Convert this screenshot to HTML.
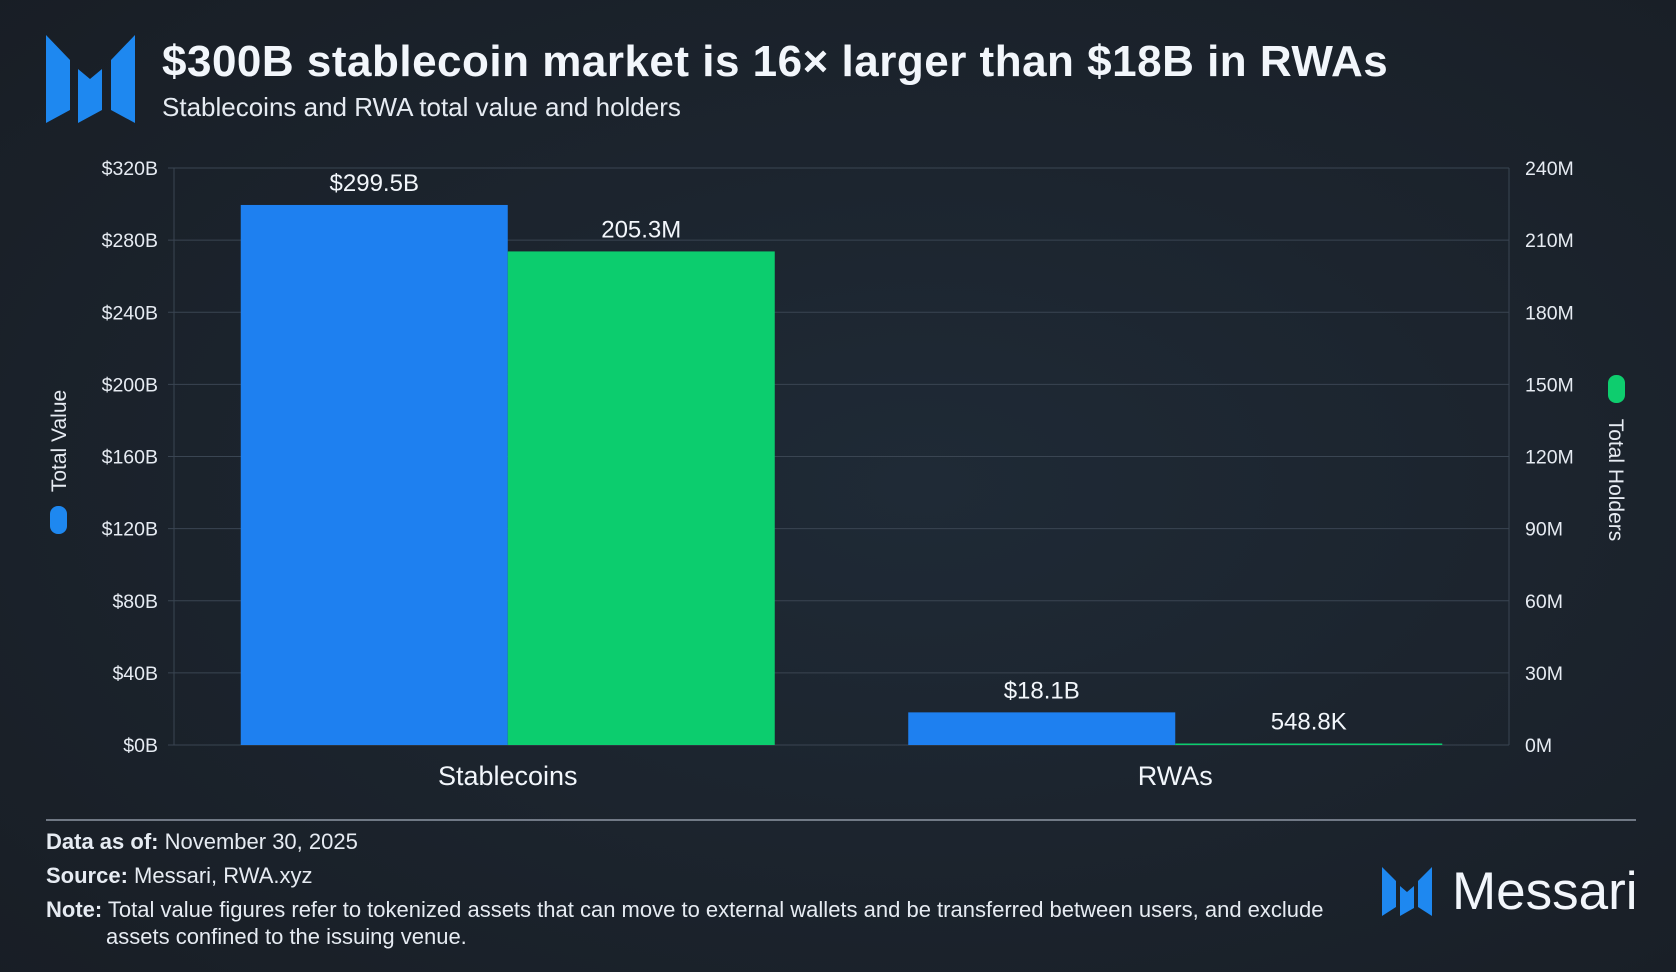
<!DOCTYPE html>
<html><head><meta charset="utf-8"><style>
html,body{margin:0;padding:0;width:1676px;height:972px;overflow:hidden;background:#1a2029;}
svg{display:block;font-family:"Liberation Sans",sans-serif;}
</style></head><body>
<svg id="chart" width="1676" height="972" viewBox="0 0 1676 972">
<defs>
<radialGradient id="bg" cx="0.55" cy="0.5" r="0.8">
<stop offset="0" stop-color="#1f2a36"/><stop offset="1" stop-color="#181d24"/>
</radialGradient>
</defs>
<rect width="1676" height="972" fill="url(#bg)"/>
<g fill="#1e88f0">
<polygon points="46,35 70,60 70,110 46,123"/>
<polygon points="78,69 90,79 102,69 102,110 78,123"/>
<polygon points="111,60 135,35 135,123 111,110"/>
</g>
<text x="162" y="76" font-size="44" font-weight="bold" letter-spacing="0.5" fill="#f2f6fb">$300B stablecoin market is 16× larger than $18B in RWAs</text>
<text x="162" y="116" font-size="26" fill="#e6ebf2">Stablecoins and RWA total value and holders</text>
<g id="plot"></g>
<g>
<rect x="50" y="506" width="17" height="28" rx="8" fill="#1e88f0"/>
<text transform="translate(66,441) rotate(-90)" text-anchor="middle" font-size="21" fill="#e6ebf2">Total Value</text>
</g>
<g>
<rect x="1608" y="375" width="17" height="28" rx="8" fill="#0ecd6e"/>
<text transform="translate(1609,480) rotate(90)" text-anchor="middle" font-size="21" fill="#e6ebf2">Total Holders</text>
</g>
<line x1="46" y1="820" x2="1636" y2="820" stroke="#8d96a3" stroke-width="1.5"/>
<g font-size="22" fill="#e6ebf2">
<text x="46" y="849"><tspan font-weight="bold">Data as of:</tspan> November 30, 2025</text>
<text x="46" y="883"><tspan font-weight="bold">Source:</tspan> Messari, RWA.xyz</text>
<text x="46" y="917"><tspan font-weight="bold">Note:</tspan> Total value figures refer to tokenized assets that can move to external wallets and be transferred between users, and exclude</text>
<text x="106" y="944">assets confined to the issuing venue.</text>
</g>
<g>
<g fill="#1e88f0">
<polygon points="1382,867 1396,881 1396,907 1382,916"/>
<polygon points="1400,886 1407,892 1414,886 1414,908 1400,916"/>
<polygon points="1418,881 1432,867 1432,916 1418,907"/>
</g>
<text x="1452" y="909" font-size="53" fill="#f2f6fb">Messari</text>
</g>
</svg>
<script>
const categories = ["Stablecoins", "RWAs"];
const totalValue = [299.5, 18.1];
const totalHolders = [205.3, 0.5488];
const valueLabels = ["$299.5B", "$18.1B"];
const holderLabels = ["205.3M", "548.8K"];
const leftTicks = [0, 40, 80, 120, 160, 200, 240, 280, 320];
const leftTickLabels = ["$0B","$40B","$80B","$120B","$160B","$200B","$240B","$280B","$320B"];
const rightTicks = [0, 30, 60, 90, 120, 150, 180, 210, 240];
const rightTickLabels = ["0M","30M","60M","90M","120M","150M","180M","210M","240M"];

const NS = "http://www.w3.org/2000/svg";
const plot = document.getElementById("plot");
const L = 174, R = 1509, T = 168, B = 745;
const yL = v => B - (v / 320) * (B - T);
const yR = v => B - (v / 240) * (B - T);
const band = (R - L) / categories.length;
const xC = i => L + band * (i + 0.5);
function mk(tag, attrs) { const e = document.createElementNS(NS, tag); for (const k in attrs) e.setAttribute(k, attrs[k]); plot.appendChild(e); return e; }

leftTicks.forEach((t, i) => {
  const g = mk("line", {x1: L - 6, x2: R, y1: yL(t), y2: yL(t), stroke: "#3a4552", "stroke-width": 1});
  
  
  const tx = mk("text", {x: 158, y: yL(t) + 7, "text-anchor": "end", "font-size": 19.5, fill: "#e6ebf2"});
  tx.textContent = leftTickLabels[i];
  
  
});
rightTicks.forEach((t, i) => {
  const tx = mk("text", {x: 1525, y: yR(t) + 7, "font-size": 19.5, fill: "#e6ebf2"});
  tx.textContent = rightTickLabels[i];
  
  
});
[L, R].forEach(x => {
  const a = mk("line", {x1: x, x2: x, y1: T, y2: B, stroke: "#3a4552", "stroke-width": 1});
  
  
});
const bw = band * 0.4;
categories.forEach((c, i) => {
  const x0 = xC(i) - bw;
  const b1 = mk("rect", {x: x0, y: yL(totalValue[i]), width: bw, height: B - yL(totalValue[i]), fill: "#1e80f0"});
  
  
  const h = Math.max(1.5, B - yR(totalHolders[i]));
  const b2 = mk("rect", {x: xC(i), y: B - h, width: bw, height: h, fill: "#0ccd6e"});
  
  
  const l1 = mk("text", {x: x0 + bw / 2, y: yL(totalValue[i]) - 14, "text-anchor": "middle", "font-size": 24, fill: "#f2f6fb"});
  l1.textContent = valueLabels[i];
  
  
  const l2 = mk("text", {x: xC(i) + bw / 2, y: B - h - 14, "text-anchor": "middle", "font-size": 24, fill: "#f2f6fb"});
  l2.textContent = holderLabels[i];
  
  
  const cl = mk("text", {x: xC(i), y: 785, "text-anchor": "middle", "font-size": 27, fill: "#f2f6fb"});
  cl.textContent = c;
  
  
});
</script>
</body></html>
